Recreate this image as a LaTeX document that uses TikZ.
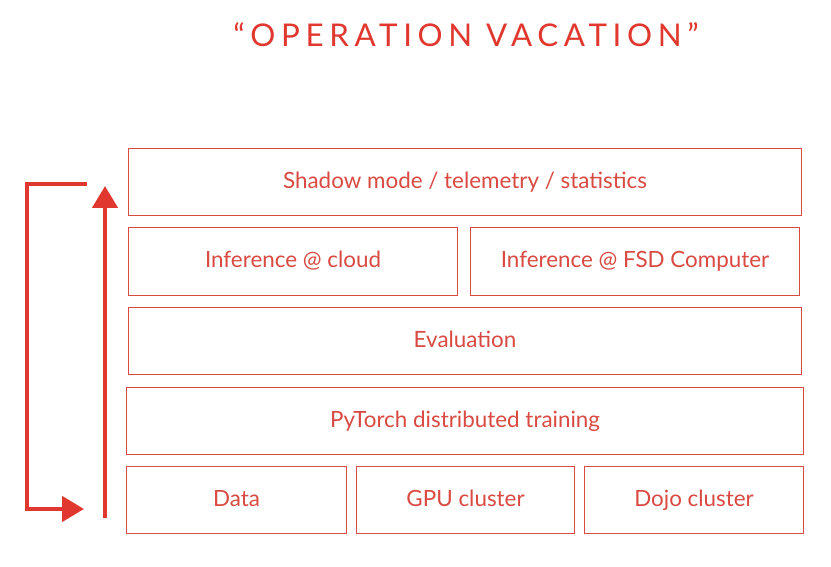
\documentclass[tikz,border=0pt]{standalone}
\usepackage{fontspec}
\setmainfont{Lato}
\newfontfamily\titlefont[LetterSpace=18]{Lato}
\usetikzlibrary{arrows.meta}
\definecolor{teslared}{HTML}{E0382E}
\definecolor{boxred}{HTML}{D94A42}
\tikzset{
  layer/.style={draw=boxred,line width=1.1pt,text=boxred,font=\fontsize{22.4}{26}\selectfont,anchor=north west,inner sep=0pt,text height=1.5em,text depth=0.22em},
}
\begin{document}
\begin{tikzpicture}[x=1pt,y=-1pt]
            \useasboundingbox[fill=white] (0,0) rectangle (831,567);
            \node[text=teslared,font=\titlefont\fontsize{31.3}{36}\selectfont] (title) at (466,35) {“OPERATION VACATION”};
            \node[layer,minimum width=673pt,minimum height=67pt] (shadow) at (128,148) {Shadow mode / telemetry / statistics};
            \node[layer,minimum width=329pt,minimum height=68pt] (cloud) at (128,227) {Inference @ cloud};
            \node[layer,minimum width=329pt,minimum height=68pt] (fsd) at (470,227) {Inference @ FSD Computer};
            \node[layer,minimum width=673pt,minimum height=67pt] (eval) at (128,307) {Evaluation};
            \node[layer,minimum width=677pt,minimum height=67pt] (pytorch) at (126,387) {PyTorch distributed training};
            \node[layer,minimum width=220pt,minimum height=67pt] (data) at (126,466) {Data};
            \node[layer,minimum width=218pt,minimum height=67pt] (gpu) at (356,466) {GPU cluster};
            \node[layer,minimum width=219pt,minimum height=67pt] (dojo) at (584,466) {Dojo cluster};
            \coordinate (B) at (105,518);
            \coordinate (T) at (105,186);
            \coordinate (S) at (87,184);
            \coordinate (E) at (84,509);
            \draw[teslared,line width=4.5pt,-{Triangle[length=22pt,width=25pt]}] (B) -- (T);
            \draw[teslared,line width=4.5pt,-{Triangle[length=22pt,width=25pt]}] (S) -- (27,184) -- (27,509) -- (E);
        \end{tikzpicture}
\end{document}
